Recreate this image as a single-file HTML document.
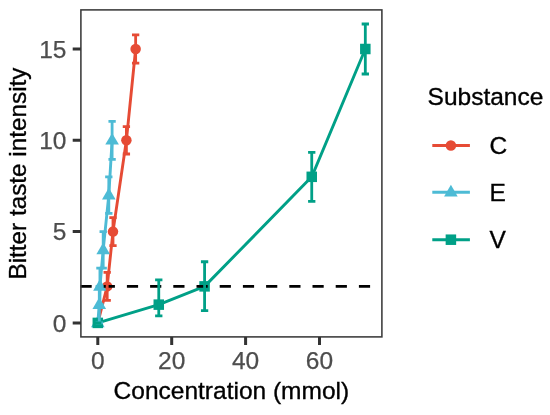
<!DOCTYPE html>
<html lang="en"><head><meta charset="utf-8"><title>Bitter taste intensity vs concentration</title>
<style>html,body{margin:0;padding:0;background:#fff}body{width:550px;height:415px;overflow:hidden}svg{display:block}text{font-family:"Liberation Sans",Arial,Helvetica,sans-serif}.tk{font-size:24.5px;fill:#4d4d4d;stroke:#4d4d4d;stroke-width:.25px}.ti{font-size:24.5px;fill:#000;stroke:#000;stroke-width:.35px}.lg{font-size:24.5px;fill:#000;stroke:#000;stroke-width:.35px}</style></head><body>
<svg width="550" height="415" viewBox="0 0 550 415">
<rect width="550" height="415" fill="#fff"/>
<g>
<polyline points="97.8,322.9 107.19,286.38 112.99,231.6 126.4,140.3 135.64,49" fill="none" stroke="#E64B35" stroke-width="2.9" stroke-linejoin="round"/>
<polyline points="97.8,322.9 99.28,304.64 99.94,286.38 103.19,249.86 108.81,195.08 112.1,140.3" fill="none" stroke="#4DBBD5" stroke-width="2.9" stroke-linejoin="round"/>
<polyline points="97.8,322.9 158.77,304.64 204.59,286.38 311.74,176.82 365.32,49" fill="none" stroke="#00A087" stroke-width="2.9" stroke-linejoin="round"/>
</g>
<g>
<circle cx="97.8" cy="322.9" r="4.4" fill="#E64B35"/>
<circle cx="107.19" cy="286.38" r="5.25" fill="#E64B35"/>
<circle cx="112.99" cy="231.6" r="5.25" fill="#E64B35"/>
<circle cx="126.4" cy="140.3" r="5.25" fill="#E64B35"/>
<circle cx="135.64" cy="49" r="5.25" fill="#E64B35"/>
<polygon points="97.8,315.5 104.6,327.2 91,327.2" fill="#4DBBD5"/>
<polygon points="99.28,297.24 106.08,308.94 92.48,308.94" fill="#4DBBD5"/>
<polygon points="99.94,278.98 106.74,290.68 93.14,290.68" fill="#4DBBD5"/>
<polygon points="103.19,242.46 109.99,254.16 96.39,254.16" fill="#4DBBD5"/>
<polygon points="108.81,187.68 115.61,199.38 102.01,199.38" fill="#4DBBD5"/>
<polygon points="112.1,132.9 118.9,144.6 105.3,144.6" fill="#4DBBD5"/>
<rect x="92.55" y="317.65" width="10.5" height="10.5" fill="#00A087"/>
<rect x="153.52" y="299.39" width="10.5" height="10.5" fill="#00A087"/>
<rect x="199.34" y="281.13" width="10.5" height="10.5" fill="#00A087"/>
<rect x="306.49" y="171.57" width="10.5" height="10.5" fill="#00A087"/>
<rect x="360.07" y="43.75" width="10.5" height="10.5" fill="#00A087"/>
</g>
<line x1="80.5" y1="286.38" x2="381.9" y2="286.38" stroke="#000" stroke-width="2.7" stroke-dasharray="11.2 12"/>
<g>
<path d="M103.54 272.32H110.84M103.54 300.44H110.84M107.19 272.32V300.44" fill="none" stroke="#E64B35" stroke-width="2.8"/>
<path d="M109.34 217.54H116.64M109.34 245.66H116.64M112.99 217.54V245.66" fill="none" stroke="#E64B35" stroke-width="2.8"/>
<path d="M122.75 126.6H130.05M122.75 153.99H130.05M126.4 126.6V153.99" fill="none" stroke="#E64B35" stroke-width="2.8"/>
<path d="M131.99 34.94H139.29M131.99 63.06H139.29M135.64 34.94V63.06" fill="none" stroke="#E64B35" stroke-width="2.8"/>
<path d="M95.63 286.38H102.93M95.63 322.9H102.93M99.28 286.38V322.9" fill="none" stroke="#4DBBD5" stroke-width="2.8"/>
<path d="M96.29 268.12H103.59M96.29 304.64H103.59M99.94 268.12V304.64" fill="none" stroke="#4DBBD5" stroke-width="2.8"/>
<path d="M99.54 231.6H106.84M99.54 268.12H106.84M103.19 231.6V268.12" fill="none" stroke="#4DBBD5" stroke-width="2.8"/>
<path d="M105.16 176.82H112.46M105.16 213.34H112.46M108.81 176.82V213.34" fill="none" stroke="#4DBBD5" stroke-width="2.8"/>
<path d="M108.45 121.31H115.75M108.45 159.29H115.75M112.1 121.31V159.29" fill="none" stroke="#4DBBD5" stroke-width="2.8"/>
<path d="M94.15 322.9H101.45M94.15 322.9H101.45M97.8 322.9V322.9" fill="none" stroke="#00A087" stroke-width="2.8"/>
<path d="M155.12 279.81H162.42M155.12 315.78H162.42M158.77 279.81V315.78" fill="none" stroke="#00A087" stroke-width="2.8"/>
<path d="M200.94 261.73H208.24M200.94 310.67H208.24M204.59 261.73V310.67" fill="none" stroke="#00A087" stroke-width="2.8"/>
<path d="M308.09 152.35H315.39M308.09 201.29H315.39M311.74 152.35V201.29" fill="none" stroke="#00A087" stroke-width="2.8"/>
<path d="M361.67 23.98H368.97M361.67 74.02H368.97M365.32 23.98V74.02" fill="none" stroke="#00A087" stroke-width="2.8"/>
</g>
<rect x="80.9" y="9.9" width="301" height="327" fill="none" stroke="#3a3a3a" stroke-width="1.55"/>
<path d="M72.7 322.9H80.9M72.7 231.6H80.9M72.7 140.3H80.9M72.7 49H80.9M97.8 336.9V345M171.7 336.9V345M245.6 336.9V345M319.5 336.9V345" fill="none" stroke="#333" stroke-width="3"/>
<text class="tk" x="66.5" y="331.5" text-anchor="end">0</text>
<text class="tk" x="66.5" y="240.2" text-anchor="end">5</text>
<text class="tk" x="66.5" y="148.9" text-anchor="end">10</text>
<text class="tk" x="66.5" y="57.6" text-anchor="end">15</text>
<text class="tk" x="97.8" y="369.1" text-anchor="middle">0</text>
<text class="tk" x="171.7" y="369.1" text-anchor="middle">20</text>
<text class="tk" x="245.6" y="369.1" text-anchor="middle">40</text>
<text class="tk" x="319.5" y="369.1" text-anchor="middle">60</text>
<text class="ti" x="231.4" y="398.6" text-anchor="middle">Concentration (mmol)</text>
<text class="ti" style="font-size:24.3px" transform="translate(25.6 173.5) rotate(-90)" text-anchor="middle">Bitter taste intensity</text>
<text class="ti" x="427.6" y="104.5">Substance</text>
<line x1="432.3" y1="145.5" x2="469.9" y2="145.5" stroke="#E64B35" stroke-width="2.9"/>
<circle cx="450.9" cy="145.5" r="5.25" fill="#E64B35"/>
<text class="lg" x="489.6" y="154.1">C</text>
<line x1="432.3" y1="192.2" x2="469.9" y2="192.2" stroke="#4DBBD5" stroke-width="2.9"/>
<polygon points="450.9,184.8 457.7,196.5 444.1,196.5" fill="#4DBBD5"/>
<text class="lg" x="489.6" y="200.8">E</text>
<line x1="432.3" y1="239.7" x2="469.9" y2="239.7" stroke="#00A087" stroke-width="2.9"/>
<rect x="445.65" y="234.45" width="10.5" height="10.5" fill="#00A087"/>
<text class="lg" x="489.6" y="248.3">V</text>
</svg></body></html>
